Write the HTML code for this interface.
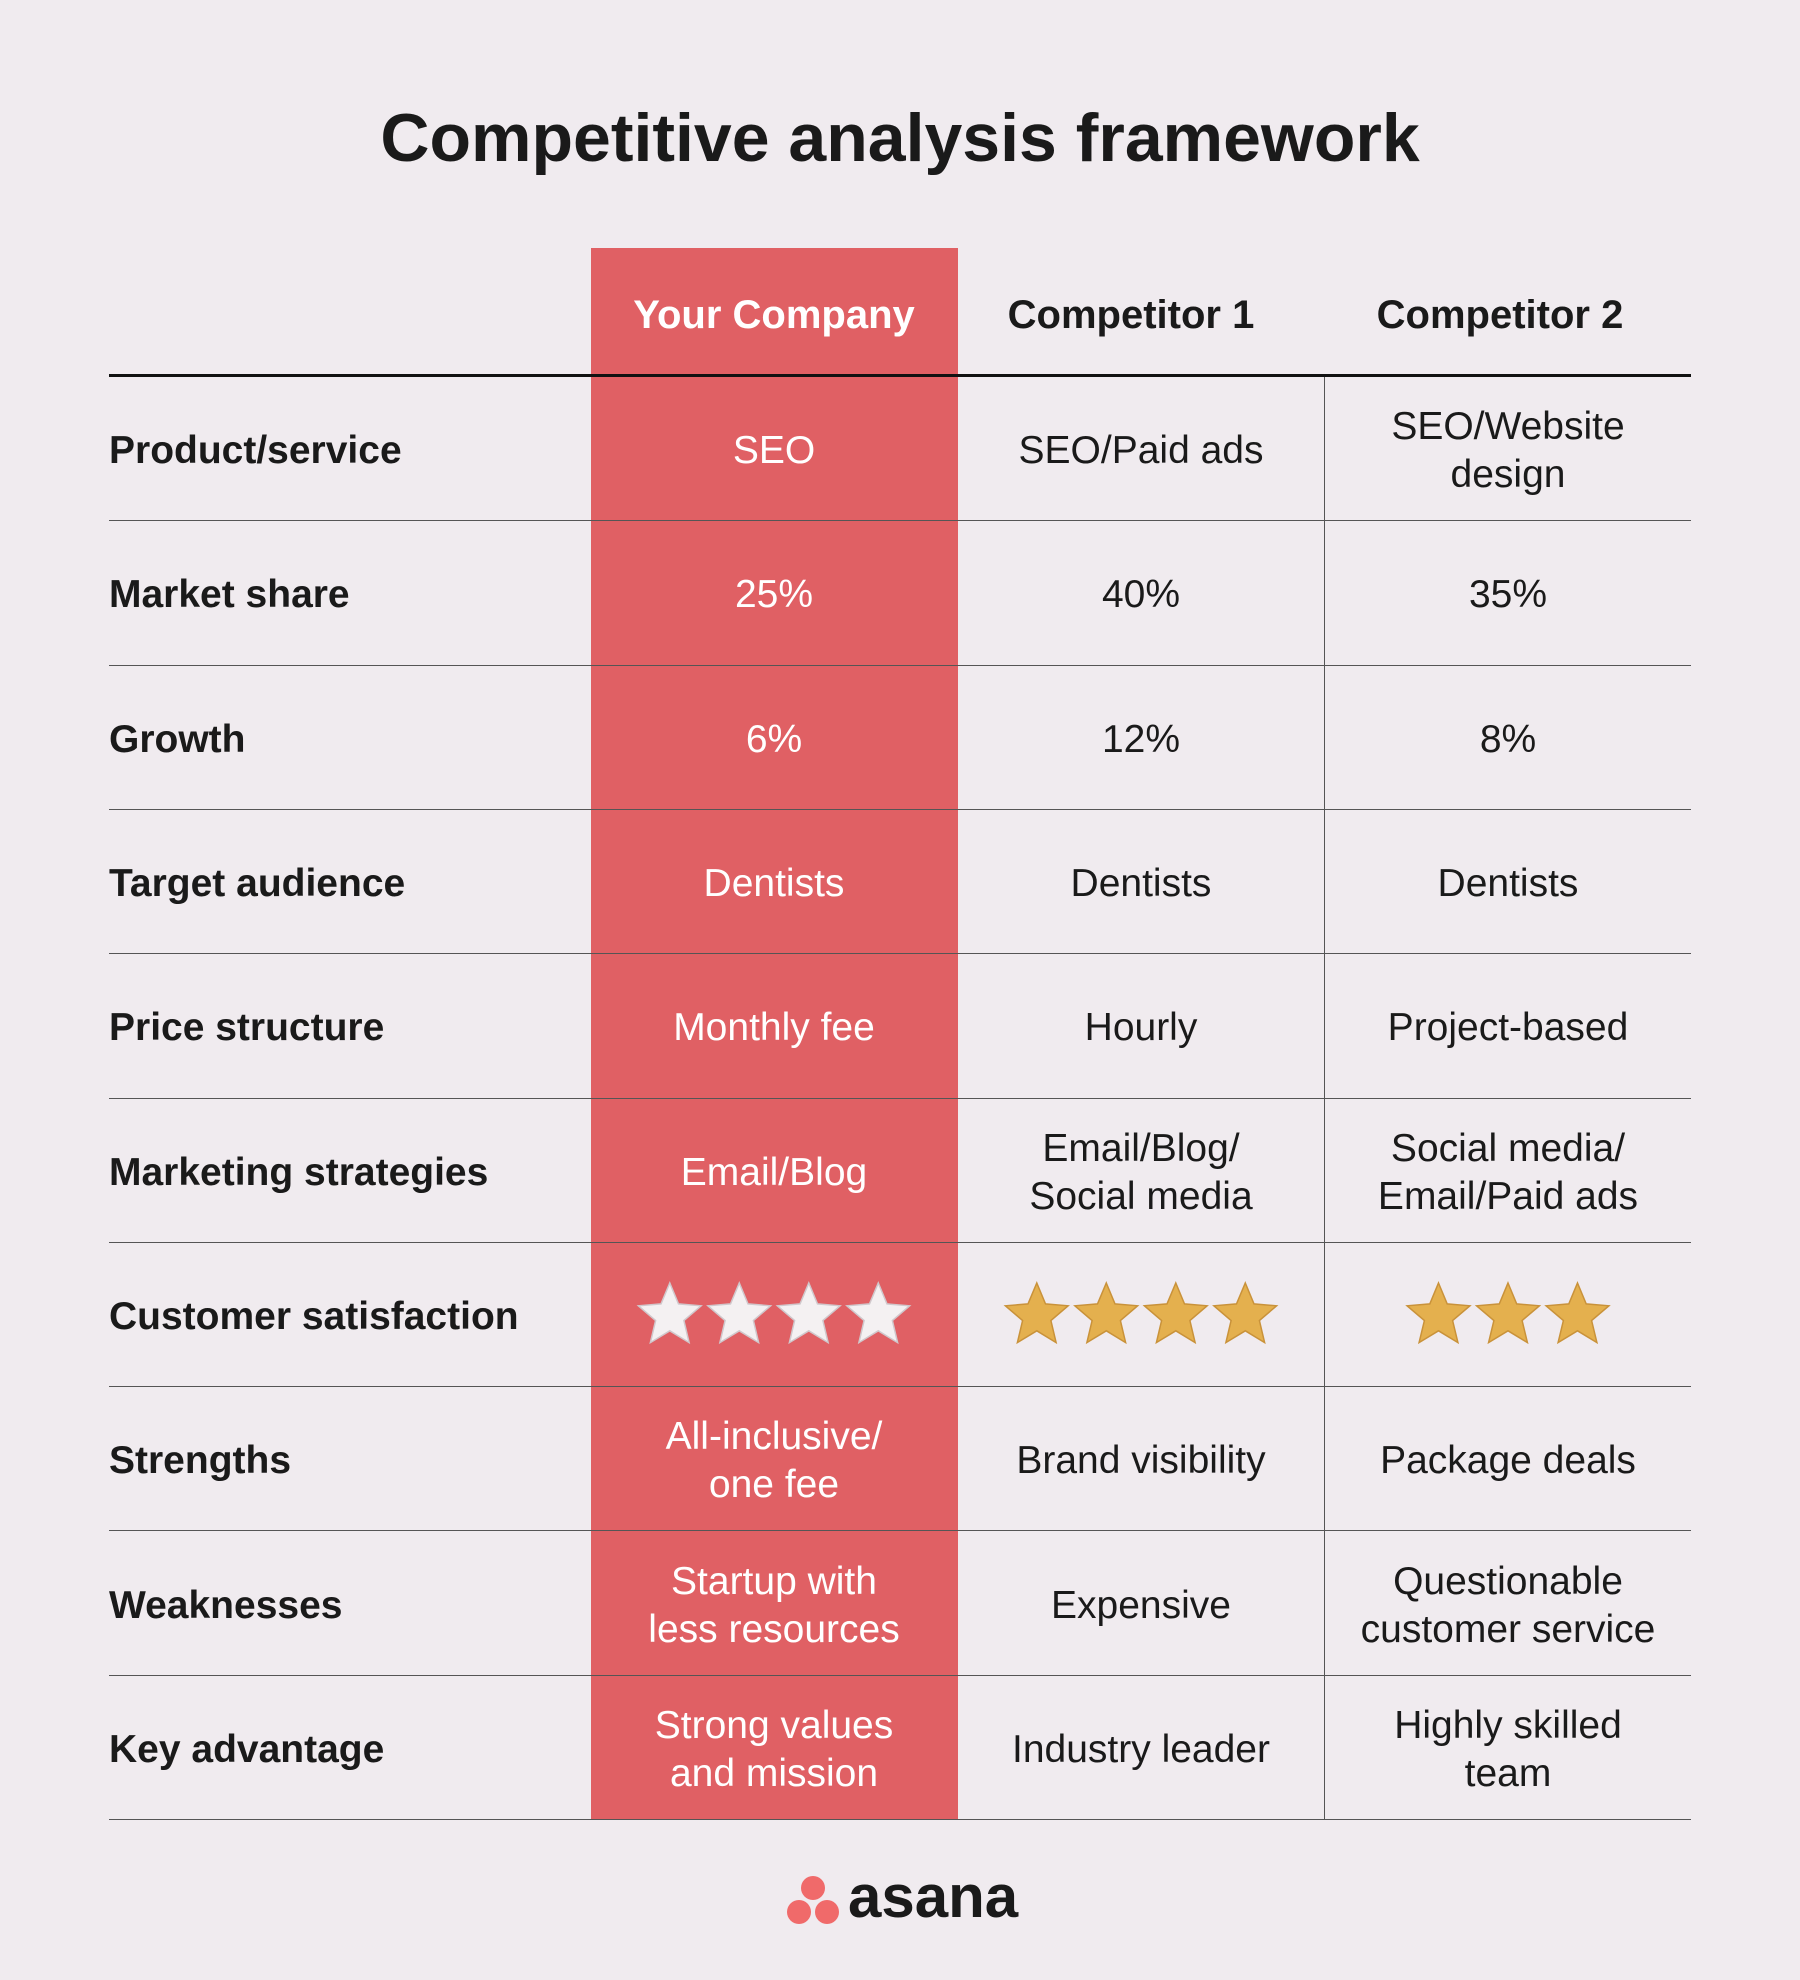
<!DOCTYPE html>
<html><head><meta charset="utf-8"><style>
body{margin:0;width:1800px;height:1980px;background:#f0ebef;font-family:"Liberation Sans",sans-serif;color:#1a1a1a;position:relative;overflow:hidden}
.abs{position:absolute}
.t{position:absolute;transform:translate(-50%,-50%);text-align:center;font-size:39px;line-height:48px;white-space:nowrap}
.lbl{position:absolute;transform:translateY(-50%);font-size:39px;font-weight:bold;left:109px;white-space:nowrap}
.hline{position:absolute;left:109px;width:1582px;height:1px;background:#555}
</style></head><body>
<div class="t" style="left:900px;top:138px;font-size:68px;font-weight:bold;line-height:80px">Competitive analysis framework</div>
<div class="abs" style="left:591px;top:248px;width:367px;height:1571px;background:#e06064"></div>
<div class="abs" style="left:1324px;top:375px;width:1px;height:1444px;background:#555"></div>
<div class="abs" style="left:109px;top:374px;width:1582px;height:3px;background:#111"></div>
<div class="t" style="left:774px;top:315px;font-weight:bold;color:#fff;font-size:40px">Your Company</div>
<div class="t" style="left:1131px;top:315px;font-weight:bold;font-size:40px">Competitor 1</div>
<div class="t" style="left:1500px;top:315px;font-weight:bold;font-size:40px">Competitor 2</div>
<div id="rows"></div>
<svg class="abs" style="left:0;top:0" width="1800" height="1980" id="stars"></svg>
<div class="abs" style="left:786px;top:1868px;width:230px;height:64px">
<svg width="54" height="54" style="position:absolute;left:0;top:6px"><circle cx="27" cy="14" r="12" fill="#f06a6a"/><circle cx="13" cy="38" r="12" fill="#f06a6a"/><circle cx="41" cy="38" r="12" fill="#f06a6a"/></svg>
<div style="position:absolute;left:62px;top:-6px;font-size:60px;font-weight:bold;color:#1a1a1a">asana</div></div>
<script>
const labels=["Product/service","Market share","Growth","Target audience","Price structure","Marketing strategies","Customer satisfaction","Strengths","Weaknesses","Key advantage"];
const colYour=["SEO","25%","6%","Dentists","Monthly fee","Email/Blog","","All-inclusive/<br>one fee","Startup with<br>less resources","Strong values<br>and mission"];
const colC1=["SEO/Paid ads","40%","12%","Dentists","Hourly","Email/Blog/<br>Social media","","Brand visibility","Expensive","Industry leader"];
const colC2=["SEO/Website<br>design","35%","8%","Dentists","Project-based","Social media/<br>Email/Paid ads","","Package deals","Questionable<br>customer service","Highly skilled<br>team"];
const starCounts=[4,4,3];
const top0=376,rh=144.3,cx=[774,1141,1508];
const R=document.getElementById('rows');
labels.forEach((l,i)=>{
 const cy=top0+rh*(i+0.5)+3;
 const d=document.createElement('div');d.className='lbl';d.style.top=cy+'px';d.textContent=l;
 
 
 R.appendChild(d);
 [colYour,colC1,colC2].forEach((c,j)=>{
  if(!c[i])return;
  const e=document.createElement('div');e.className='t';e.style.left=cx[j]+'px';e.style.top=cy+'px';e.innerHTML=c[i];
  if(j==0)e.style.color='#fff';
  
  
  R.appendChild(e);
 });
 const h=document.createElement('div');h.className='hline';h.style.top=(top0+rh*(i+1))+'px';
 
 
 R.appendChild(h);
});
const S=document.getElementById('stars');
const sy=top0+rh*6.5,gap=69.5,r=33;
function pts(x,y){let p=[];for(let k=0;k<10;k++){const a=-Math.PI/2+k*Math.PI/5,rr=k%2?r*0.45:r;p.push((x+rr*Math.cos(a)).toFixed(1)+','+(y+rr*Math.sin(a)).toFixed(1));}return p.join(' ');}
starCounts.forEach((n,j)=>{
 for(let k=0;k<n;k++){
  const x=cx[j]+(k-(n-1)/2)*gap;
  const p=document.createElementNS('http://www.w3.org/2000/svg','polygon');
  p.setAttribute('points',pts(x,sy+2));
  p.setAttribute('fill',j==0?'#f4f1f2':'#e4b04e');
  p.setAttribute('stroke',j==0?'#d0c8cc':'#c9923a');
  p.setAttribute('stroke-width','1.5');
  
  
  S.appendChild(p);
 }
});
</script>
</body></html>
